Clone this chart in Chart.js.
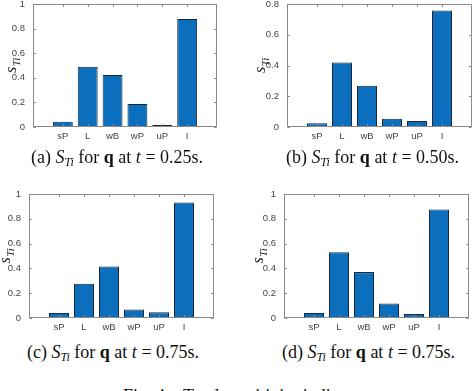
<!DOCTYPE html>
<html><head><meta charset="utf-8">
<script src="https://cdn.jsdelivr.net/npm/chart.js@4"></script>
<style>
html,body{margin:0;padding:0;background:#fff;width:474px;height:391px;overflow:hidden;}
.pane{position:absolute;}
.cap{position:absolute;font-family:"Liberation Serif","DejaVu Serif",serif;font-size:18px;color:#111;white-space:nowrap;line-height:18px;}
.cap sub{font-size:12px;vertical-align:-3px;line-height:0;}
</style></head>
<body>
<div class="pane" style="left:0;top:0"><canvas id="ca" width="237" height="150"></canvas></div>
<div class="pane" style="left:237px;top:0"><canvas id="cb" width="237" height="150"></canvas></div>
<div class="pane" style="left:0;top:180px"><canvas id="cc" width="237" height="150"></canvas></div>
<div class="pane" style="left:237px;top:180px"><canvas id="cd" width="237" height="150"></canvas></div>
<div class="cap" style="left:31px;top:148px">(a) <i>S</i><sub><i>Ti</i></sub> for <b>q</b> at <i>t</i> = 0.25s.</div>
<div class="cap" style="left:286px;top:148px">(b) <i>S</i><sub><i>Ti</i></sub> for <b>q</b> at <i>t</i> = 0.50s.</div>
<div class="cap" style="left:27px;top:343px">(c) <i>S</i><sub><i>Ti</i></sub> for <b>q</b> at <i>t</i> = 0.75s.</div>
<div class="cap" style="left:282px;top:343px">(d) <i>S</i><sub><i>Ti</i></sub> for <b>q</b> at <i>t</i> = 0.75s.</div>
<div class="cap" style="left:123px;top:387px">Fig. 4.&nbsp;&nbsp;&nbsp;Total sensitivity indices.</div>
<script>
const categories = ['sP','L','wB','wP','uP','I'];
const valuesA = [0.043,0.49,0.423,0.187,0.011,0.878];
const valuesB = [0.024,0.419,0.269,0.054,0.039,0.757];
const valuesC = [0.041,0.277,0.416,0.068,0.046,0.932];
const valuesD = [0.041,0.53,0.37,0.117,0.033,0.875];
const yTicksA = [0,0.2,0.4,0.6,0.8,1];
const yTicksB = [0,0.2,0.4,0.6,0.8];
const yTicksC = [0,0.2,0.4,0.6,0.8,1];
const yTicksD = [0,0.2,0.4,0.6,0.8,1];

const boxPlugin = {
  id:'boxp',
  afterDraw(chart, args, opts){
    const {ctx, chartArea:a, scales:{x,y}} = chart;
    ctx.save();
    ctx.strokeStyle='#8a8a8a'; ctx.lineWidth=1;
    const L=Math.round(a.left)+0.5, R=Math.round(a.right)-0.5, T=Math.round(a.top)+0.5, B=Math.round(a.bottom)-0.5;
    ctx.strokeRect(L,T,R-L,B-T);
    ctx.beginPath();
    y.ticks.forEach(t=>{const py=Math.round(y.getPixelForValue(t.value))+0.5;
      ctx.moveTo(L,py);ctx.lineTo(L+2.5,py);ctx.moveTo(R,py);ctx.lineTo(R-2.5,py);});
    x.ticks.forEach(t=>{const px=Math.round(x.getPixelForValue(t.value))+0.5;
      ctx.moveTo(px,B);ctx.lineTo(px,B-2.5);ctx.moveTo(px,T);ctx.lineTo(px,T+2.5);});
    ctx.stroke();
    // y title s_Ti
    ctx.translate(a.left-opts.titleOffset,(a.top+a.bottom)/2);
    ctx.rotate(-Math.PI/2);
    ctx.fillStyle='#222';
    ctx.font='italic 16px "Liberation Serif", serif';
    const w1=ctx.measureText('s').width;
    ctx.font='italic 11px "Liberation Serif", serif';
    const w2=ctx.measureText('Ti').width;
    const x0=-(w1+w2)/2;
    ctx.textBaseline='alphabetic';
    ctx.font='italic 16px "Liberation Serif", serif';
    ctx.fillText('s',x0,3);
    ctx.font='italic 11px "Liberation Serif", serif';
    ctx.fillText('Ti',x0+w1+0.5,7);
    ctx.restore();
  }
};

function makeChart(id, values, yTicks, ymax, area, titleOffset){
  const W=237,H=150;
  new Chart(document.getElementById(id),{
    type:'bar',
    data:{datasets:[{data:values.map((v,i)=>({x:i+1,y:v})),
      backgroundColor:'#0b6fbd',borderColor:'#1b2633',borderWidth:1,minBarLength:2,
      barPercentage:0.8,categoryPercentage:1}]},
    options:{
      responsive:false,animation:false,
      layout:{padding:{top:area.top,right:W-area.right,left:0,bottom:0}},
      plugins:{legend:{display:false},tooltip:{enabled:false},boxp:{titleOffset}},
      scales:{
        x:{type:'linear',min:-0.2,max:7.2,offset:false,
          grid:{display:false,drawTicks:false},border:{display:false},
          afterBuildTicks:s=>{s.ticks=categories.map((_,i)=>({value:i+1}));},
          afterFit:s=>{s.height=H-area.bottom;s.paddingLeft=0;s.paddingRight=0;},
          ticks:{autoSkip:false,maxRotation:0,padding:4,color:'#444',font:{family:'"Liberation Sans", Arial, sans-serif',size:9.5},
            callback:v=>categories[v-1]??''}},
        y:{min:0,max:ymax,
          grid:{display:false,drawTicks:false},border:{display:false},
          afterBuildTicks:s=>{s.ticks=yTicks.map(v=>({value:v}));},
          afterFit:s=>{s.width=area.left;s.paddingTop=0;s.paddingBottom=0;},
          ticks:{padding:8,color:'#444',font:{family:'"Liberation Sans", Arial, sans-serif',size:9.5},
            callback:v=>String(Math.round(v*10)/10)}}
      }
    },
    plugins:[boxPlugin]
  });
}
makeChart('ca',valuesA,yTicksA,1,{left:33,right:217,top:4,bottom:127},20);
makeChart('cb',valuesB,yTicksB,0.8,{left:50,right:235,top:4,bottom:127},25);
makeChart('cc',valuesC,yTicksC,1,{left:29,right:214,top:14,bottom:138},22);
makeChart('cd',valuesD,yTicksD,1,{left:47,right:232,top:14,bottom:138},24);
</script>
</body></html>
